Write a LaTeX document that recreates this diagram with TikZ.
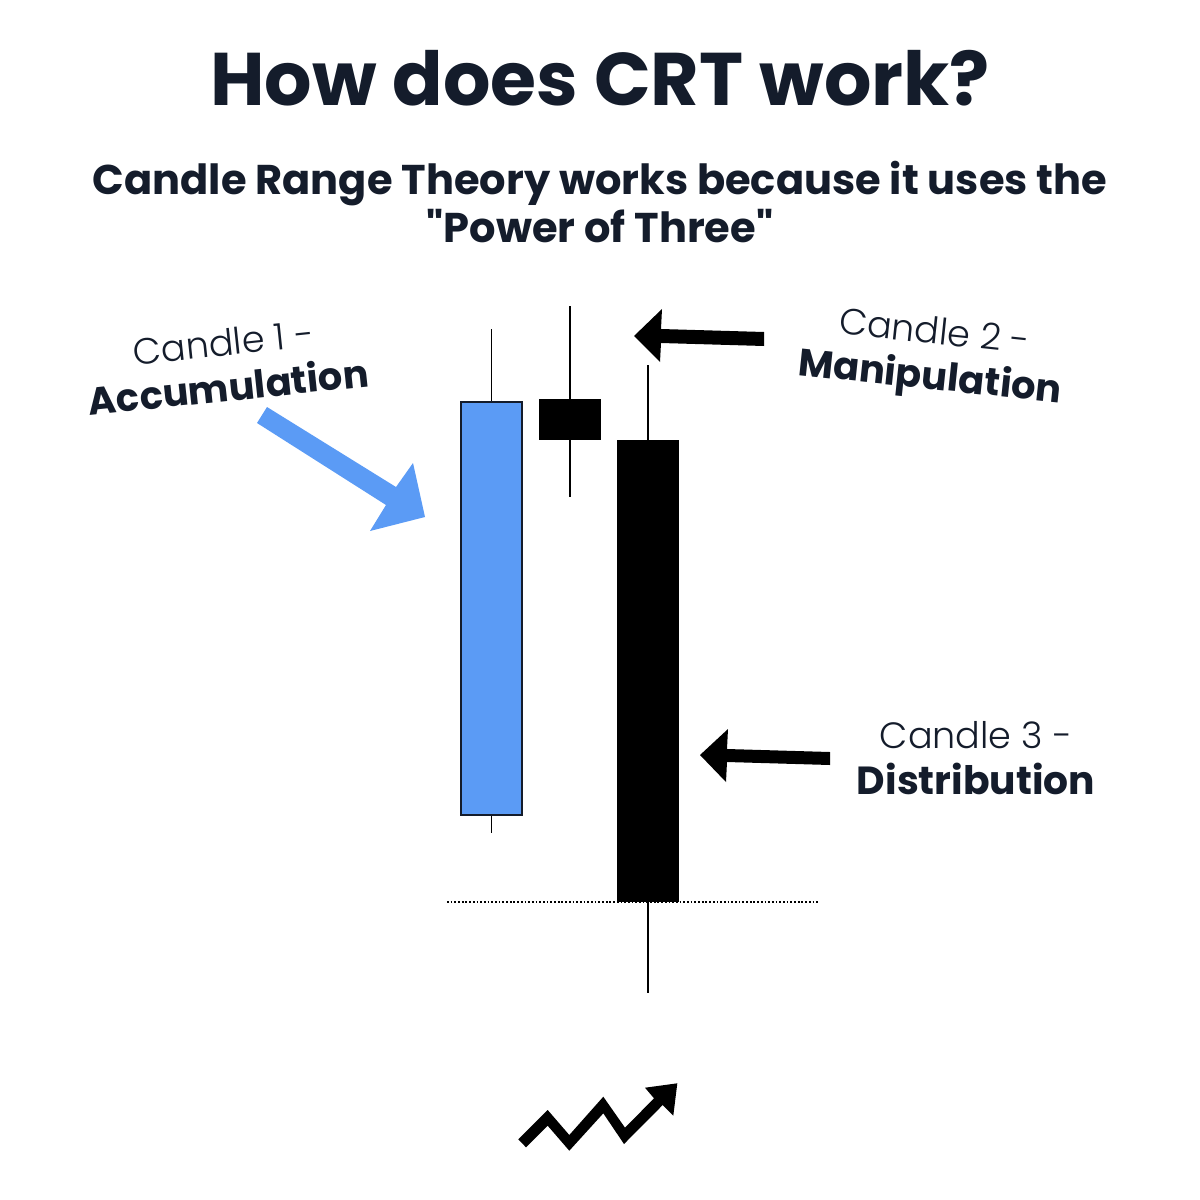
\documentclass[tikz,border=0pt]{standalone}
\usepackage{fontspec}
\setmainfont{Poppins}[Ligatures=TeXOff]
\newfontfamily\lightfont{Poppins Light}
\definecolor{inkdark}{HTML}{141C2B}
\definecolor{candleblue}{HTML}{5B9BF5}
\tikzset{
  wick/.style={line width=0.45pt,black},
  body/.style={draw=inkdark,line width=0.55pt},
  heading/.style={text=inkdark,font=\bfseries\fontsize{21.2}{24}\selectfont},
  subheading/.style={text=inkdark,align=center,font=\bfseries\fontsize{11.82}{13.9}\selectfont},
  tag/.style={text=inkdark,align=center,font=\fontsize{10.9}{13}\selectfont},
}
\newcommand{\tagtext}[2]{{\lightfont\fontsize{10.4}{13}\selectfont #1}\\{\bfseries #2}}
\begin{document}
\begin{tikzpicture}[x=0.01cm,y=-0.01cm]
\useasboundingbox (0,0) rectangle (1200,1200);

\node (title) at (600,78) [heading] {How does CRT work?};
\node (subtitle) at (600,202) [subheading] {Candle Range Theory works because it uses the\\"Power of Three"};

% level under the third candle
\draw [line width=0.5pt,dash pattern=on 0.5pt off 0.55pt] (447,902) -- (819,902);

% wicks
\draw [wick] (491.5,329) -- (491.5,833);
\draw [wick] (570,306) -- (570,497);
\draw [wick] (648,365) -- (648,993);

% candles
\draw [body,fill=candleblue] (461,402) rectangle (522,815);
\fill (539,399) rectangle (601,440);
\fill (617,440) rectangle (679,902);

% arrows
\fill [candleblue] (267,407) -- (257,423) -- (386,505) -- (370,531) -- (425,517) -- (413,463) -- (396,487) -- cycle;
\fill (634,336) -- (662,309) -- (661,329) -- (764,332) -- (764,346) -- (661,343) -- (660,362) -- cycle;
\fill (700,755) -- (728,729) -- (727,749) -- (830,752) -- (830,765) -- (727,762) -- (726,782) -- cycle;

\node (tagone) at (226,365) [tag,rotate=6] {\tagtext{Candle 1 -}{Accumulation}};
\node (tagtwo) at (932,358) [tag,rotate=-6] {\tagtext{Candle 2 -}{Manipulation}};
\node (tagthree) at (976,758) [tag,font=\fontsize{11.15}{13}\selectfont] {\tagtext{Candle 3 -}{Distribution}};

% zigzag up
\fill (518.3,1139.3) -- (547.7,1110) -- (569.3,1135) -- (603.3,1096.7) -- (625,1127.7) -- (654,1098.3) -- (645,1087.7) -- (677.3,1083.3) -- (673.3,1115.7) -- (662.7,1105) -- (624,1144) -- (603.3,1113.3) -- (569.3,1150.7) -- (547.7,1125.7) -- (526,1147.3) -- cycle;
\end{tikzpicture}
\end{document}
